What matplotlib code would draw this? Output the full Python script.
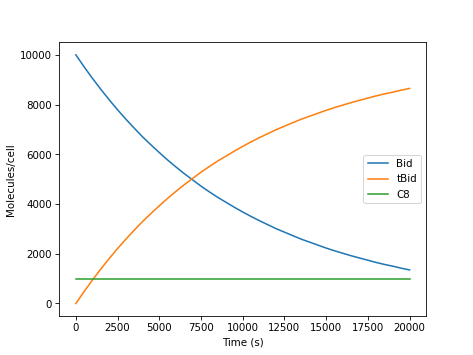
import matplotlib
matplotlib.use("Agg")
import matplotlib.pyplot as plt

# values, every 500 s
time = list(range(0, 20001, 500))
bid = [10000, 9510, 9050, 8610, 8190, 7790, 7410, 7050, 6700, 6380,
       6070, 5770, 5490, 5220, 4970, 4720, 4490, 4270, 4070, 3870,
       3680, 3500, 3330, 3170, 3010, 2870, 2730, 2590, 2470, 2350,
       2230, 2120, 2020, 1920, 1830, 1740, 1650, 1570, 1500, 1420, 1350]
tbid = [0, 490, 950, 1390, 1810, 2210, 2590, 2950, 3300, 3620,
        3930, 4230, 4510, 4780, 5030, 5280, 5510, 5730, 5930, 6130,
        6320, 6500, 6670, 6830, 6990, 7130, 7270, 7410, 7530, 7650,
        7770, 7880, 7980, 8080, 8170, 8260, 8350, 8430, 8500, 8580, 8650]
c8 = [1000] * len(time)

fig, ax = plt.subplots(figsize=(6.4, 4.8), dpi=74)
ax.plot(time, bid, label='Bid')
ax.plot(time, tbid, label='tBid')
ax.plot(time, c8, label='C8')
ax.set_xlabel('Time (s)')
ax.set_ylabel('Molecules/cell')
ax.legend(loc='center right')
fig.savefig('out.png')
